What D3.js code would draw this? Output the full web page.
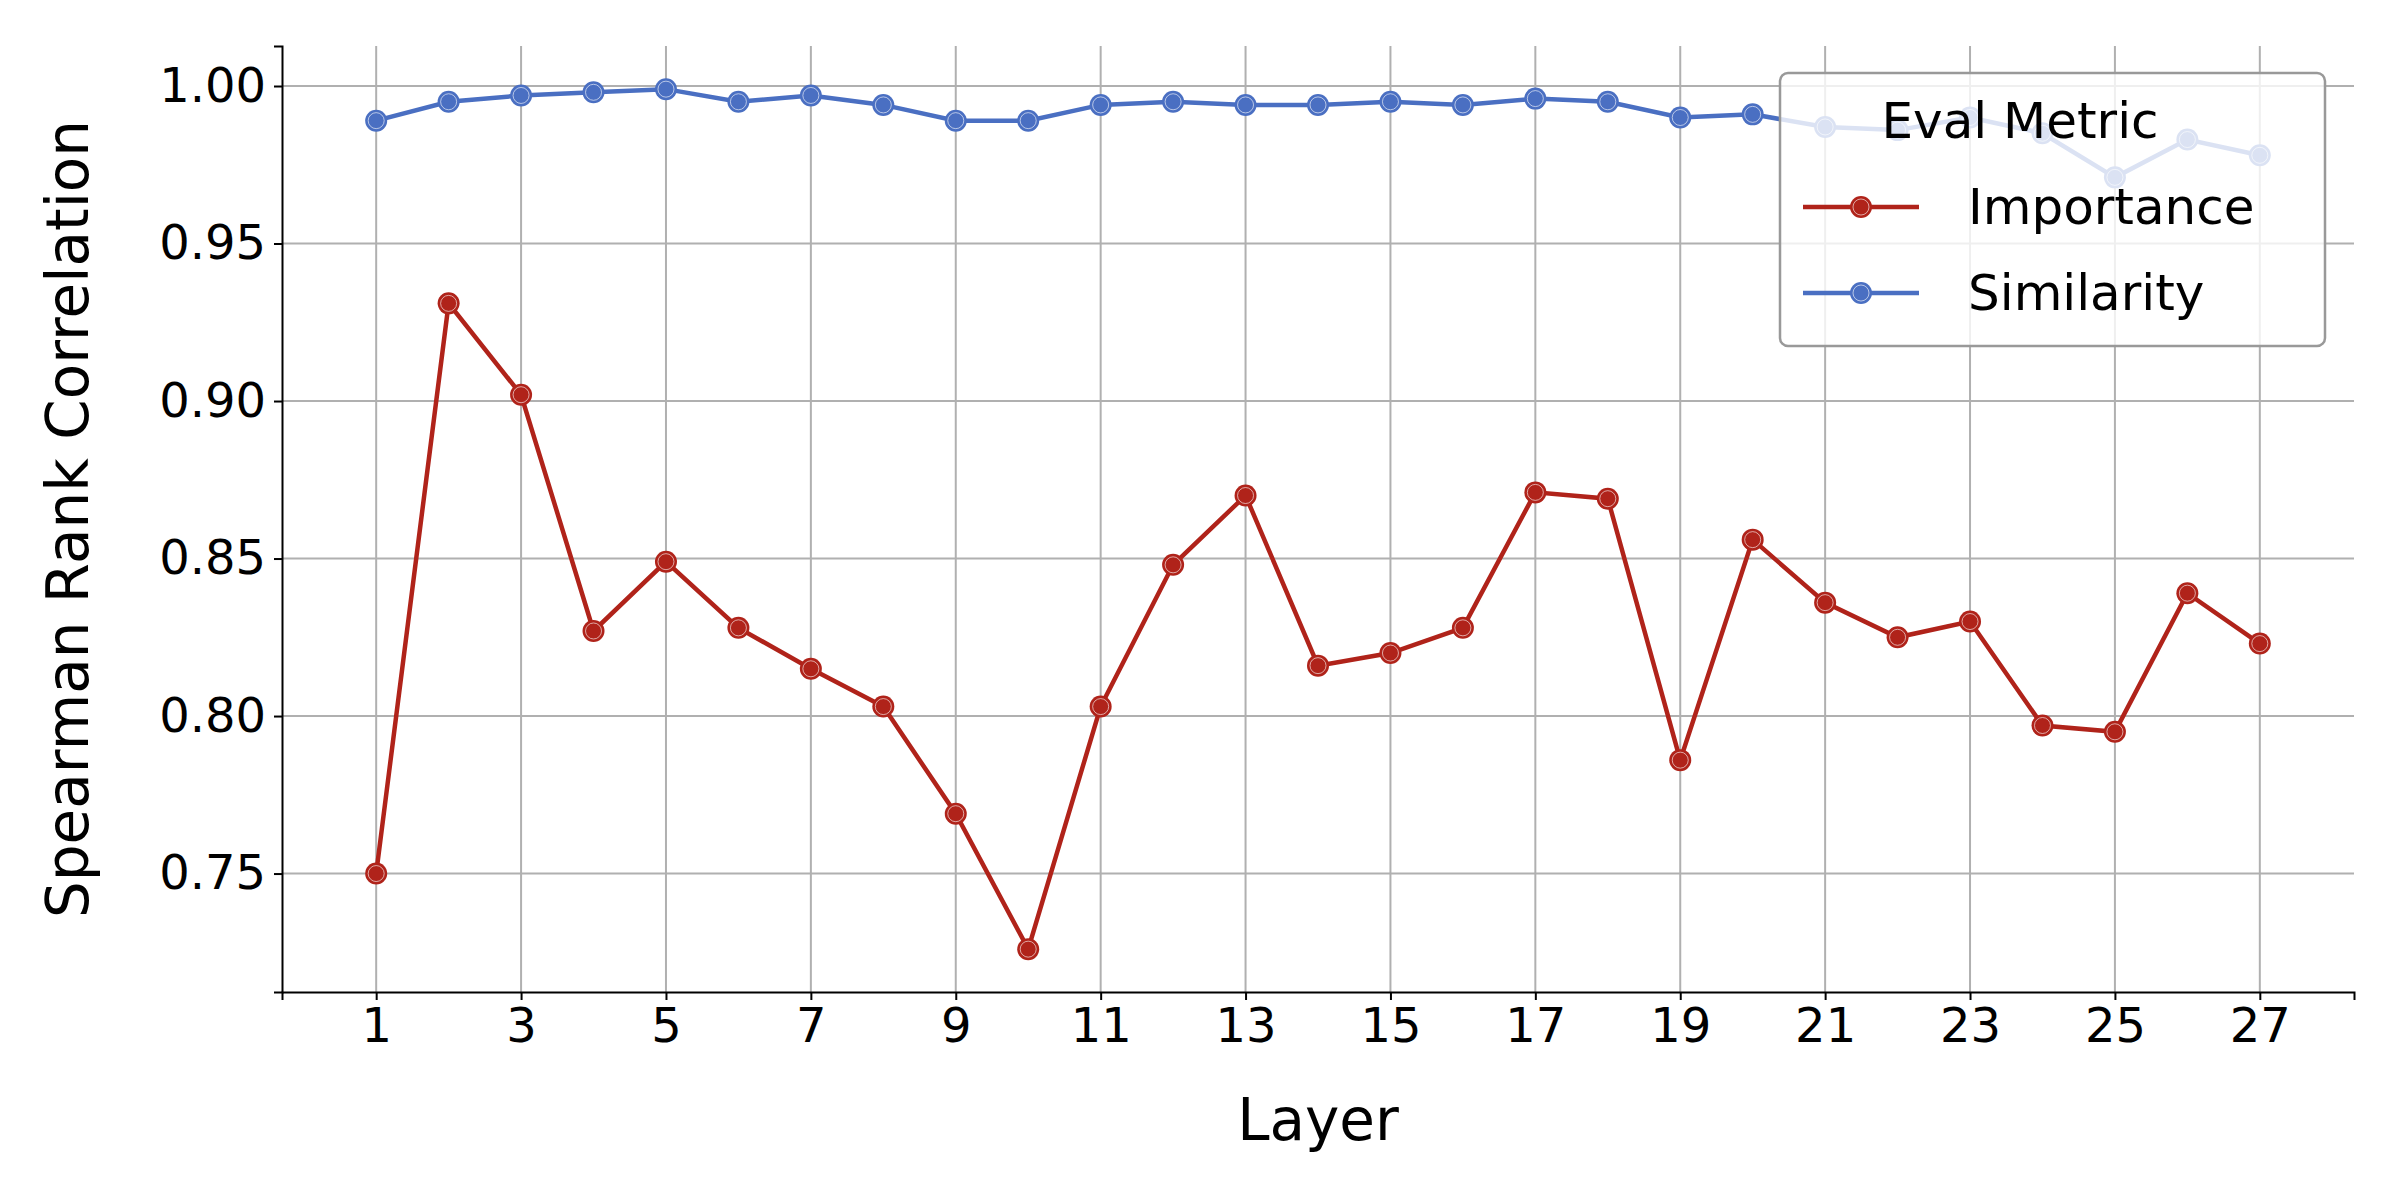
<!DOCTYPE html>
<html>
<head>
<meta charset="utf-8">
<script src="https://cdn.jsdelivr.net/npm/d3@7"></script>
<style>
  body { margin: 0; background: #fff; }
  svg text { font-family: "DejaVu Sans", sans-serif; }
</style>
</head>
<body>
<svg id="chart"></svg>
<script>
const layers = d3.range(1, 28);
const importance = [0.750, 0.931, 0.902, 0.827, 0.849, 0.828, 0.815, 0.803, 0.769, 0.726,
  0.803, 0.848, 0.870, 0.816, 0.820, 0.828, 0.871, 0.869, 0.786, 0.856,
  0.836, 0.825, 0.830, 0.797, 0.795, 0.839, 0.823];
const similarity = [0.989, 0.995, 0.997, 0.998, 0.999, 0.995, 0.997, 0.994, 0.989, 0.989,
  0.994, 0.995, 0.994, 0.994, 0.995, 0.994, 0.996, 0.995, 0.990, 0.991,
  0.987, 0.986, 0.990, 0.985, 0.971, 0.983, 0.978];
const xTicks = [1, 3, 5, 7, 9, 11, 13, 15, 17, 19, 21, 23, 25, 27];
const yTicks = [0.75, 0.80, 0.85, 0.90, 0.95, 1.00];

const width = 2400;
const height = 1200;
const margin = { left: 282, right: 46, top: 46, bottom: 208 };

const series = [
  { name: "Importance", values: importance, color: "#b0231a" },
  { name: "Similarity", values: similarity, color: "#4a6fc2" }
];

const svg = d3.select("#chart").attr("width", width).attr("height", height);

const xScale = d3.scaleLinear().domain([-0.3, 28.3]).range([margin.left, width - margin.right]);
const yScale = d3.scaleLinear().domain([0.7124, 1.0127]).range([height - margin.bottom, margin.top]);

// grid
svg.append("g")
  .selectAll("line.vg").data(xTicks).enter().append("line")
  .attr("x1", d => xScale(d)).attr("x2", d => xScale(d))
  .attr("y1", margin.top).attr("y2", height - margin.bottom)
  .attr("stroke", "#b0b0b0").attr("stroke-width", 2);
svg.append("g")
  .selectAll("line.hg").data(yTicks).enter().append("line")
  .attr("y1", d => yScale(d)).attr("y2", d => yScale(d))
  .attr("x1", margin.left).attr("x2", width - margin.right)
  .attr("stroke", "#b0b0b0").attr("stroke-width", 2);

// axes
const xAxis = d3.axisBottom(xScale).tickValues(xTicks).tickFormat(d3.format("d")).tickSizeOuter(0).tickSize(8).tickPadding(8);
const yAxis = d3.axisLeft(yScale).tickValues(yTicks).tickFormat(d3.format(".2f")).tickSizeOuter(0).tickSize(8).tickPadding(8);

const gx = svg.append("g").attr("transform", "translate(0," + (height - margin.bottom) + ")").call(xAxis);
const gy = svg.append("g").attr("transform", "translate(" + margin.left + ",0)").call(yAxis);
[gx, gy].forEach(g => {
  g.select(".domain").attr("stroke", "#000").attr("stroke-width", 2);
  g.selectAll(".tick line").attr("stroke", "#000").attr("stroke-width", 2);
  g.selectAll(".tick text").attr("font-size", 48).attr("fill", "#000").attr("font-family", "DejaVu Sans");
});

svg.append("text")
  .attr("x", (margin.left + width - margin.right) / 2).attr("y", 1140)
  .attr("text-anchor", "middle").attr("font-size", 58).text("Layer");
svg.append("text")
  .attr("transform", "translate(88," + ((margin.top + height - margin.bottom) / 2) + ") rotate(-90)")
  .attr("text-anchor", "middle").attr("font-size", 58).text("Spearman Rank Correlation");

// lines
const line = d3.line().x((d, i) => xScale(layers[i])).y(d => yScale(d));
const drawMarker = (g, cx, cy, color) => {
  g.append("circle").attr("cx", cx).attr("cy", cy).attr("r", 11).attr("fill", color);
  g.append("circle").attr("cx", cx).attr("cy", cy).attr("r", 8).attr("fill", "none")
    .attr("stroke", "#fff").attr("stroke-width", 1).attr("stroke-opacity", 0.6);
};
series.forEach(s => {
  const g = svg.append("g");
  g.append("path").datum(s.values).attr("d", line)
    .attr("fill", "none").attr("stroke", s.color).attr("stroke-width", 4.5);
  s.values.forEach((v, i) => drawMarker(g, xScale(layers[i]), yScale(v), s.color));
});

// legend
const lg = svg.append("g");
lg.append("rect").attr("x", 1780).attr("y", 73).attr("width", 545).attr("height", 273)
  .attr("rx", 8).attr("fill", "#fff").attr("fill-opacity", 0.8)
  .attr("stroke", "#999").attr("stroke-width", 2.5);
lg.append("text").attr("x", 2020).attr("y", 138).attr("text-anchor", "middle")
  .attr("font-size", 50).text("Eval Metric");
series.forEach((s, i) => {
  const y = 207 + i * 86;
  lg.append("line").attr("x1", 1803).attr("x2", 1919).attr("y1", y).attr("y2", y)
    .attr("stroke", s.color).attr("stroke-width", 4.5);
  drawMarker(lg, 1861, y, s.color);
  lg.append("text").attr("x", 1968).attr("y", y + 17).attr("font-size", 50).text(s.name);
});
</script>
</body>
</html>
